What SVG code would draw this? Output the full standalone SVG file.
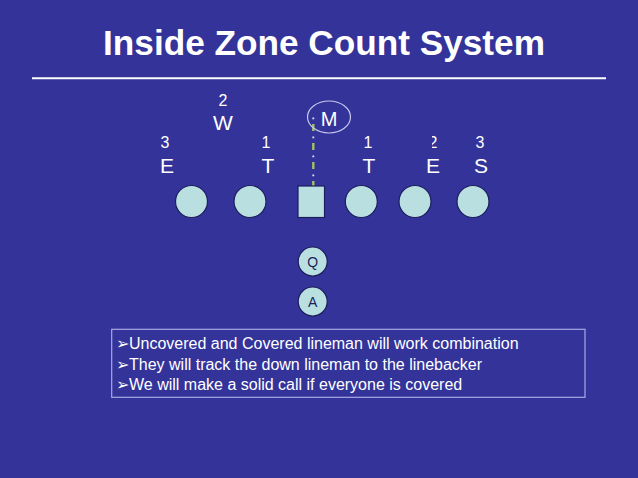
<svg xmlns="http://www.w3.org/2000/svg" width="638" height="478" viewBox="0 0 638 478">
<style>
.t{font-family:"Liberation Sans",Arial,sans-serif;fill:#ffffff}
.num{font-size:16px;text-anchor:middle}
.pos{font-size:21px;text-anchor:middle}
.pl{fill:#b9dfe1;stroke:#1c1f5c;stroke-width:1.2}
.body{font-size:16px}
.dk{fill:#1c1f5c}
</style>
<defs>
<clipPath id="cp2"><rect x="432" y="120" width="20" height="40"/></clipPath>
</defs>
<rect width="638" height="478" fill="#333399"/>
<g id="title">
<text class="t" x="324" y="54.5" font-size="35.2" font-weight="bold" text-anchor="middle">Inside Zone Count System</text>
<line x1="32" y1="78.3" x2="606" y2="78.3" stroke="#ffffff" stroke-width="2"/>
</g>
<g id="connectors">
<line x1="313.3" y1="124" x2="313.3" y2="186" stroke="#a3c45a" stroke-width="2.4" stroke-dasharray="7 12"/>
<line x1="313.3" y1="117.5" x2="313.3" y2="186" stroke="#e6e6f5" stroke-width="1.8" stroke-dasharray="1.8 17.2"/>
</g>
<g id="label-W"><text class="t num" x="223" y="106">2</text><text class="t pos" x="223" y="130">W</text></g>
<g id="label-E-left"><text class="t num" x="165" y="148">3</text><text class="t pos" x="167" y="173">E</text></g>
<g id="label-T-left"><text class="t num" x="266" y="148">1</text><text class="t pos" x="268" y="173">T</text></g>
<g id="label-T-right"><text class="t num" x="368" y="148">1</text><text class="t pos" x="369" y="173">T</text></g>
<g id="label-E-right"><text class="t num" x="433" y="148" clip-path="url(#cp2)">2</text><text class="t pos" x="433" y="173">E</text></g>
<g id="label-S"><text class="t num" x="480" y="148">3</text><text class="t pos" x="481" y="173">S</text></g>
<g id="node-M">
<ellipse cx="329" cy="117" rx="21.5" ry="16" fill="none" stroke="#c9c9ee" stroke-width="1.2"/>
<text class="t" x="329" y="126" font-size="20" text-anchor="middle">M</text>
</g>
<g id="node-LT"><circle class="pl" cx="191.5" cy="201.5" r="16"/></g>
<g id="node-LG"><circle class="pl" cx="250" cy="201.5" r="16"/></g>
<g id="node-C"><rect class="pl" x="298" y="186" width="26.5" height="31.5"/></g>
<g id="node-RG"><circle class="pl" cx="361.3" cy="201.5" r="16"/></g>
<g id="node-RT"><circle class="pl" cx="415" cy="201.5" r="16"/></g>
<g id="node-TE"><circle class="pl" cx="473" cy="201.5" r="16"/></g>
<g id="node-Q"><circle class="pl" cx="312.7" cy="261.5" r="14.5"/><text class="t dk" x="312.7" y="266.5" font-size="14" text-anchor="middle" style="fill:#1c1f5c">Q</text></g>
<g id="node-A"><circle class="pl" cx="312.7" cy="301.5" r="14.5"/><text class="t dk" x="312.7" y="306.5" font-size="14" text-anchor="middle" style="fill:#1c1f5c">A</text></g>
<g id="notes">
<rect x="111.7" y="329.3" width="473.3" height="68" fill="none" stroke="#a9a9e6" stroke-width="1.2"/>
<text class="t body" x="116" y="348.5">➢Uncovered and Covered lineman will work combination</text>
<text class="t body" x="116" y="369.5">➢They will track the down lineman to the linebacker</text>
<text class="t body" x="116" y="390">➢We will make a solid call if everyone is covered</text>
</g>
</svg>
